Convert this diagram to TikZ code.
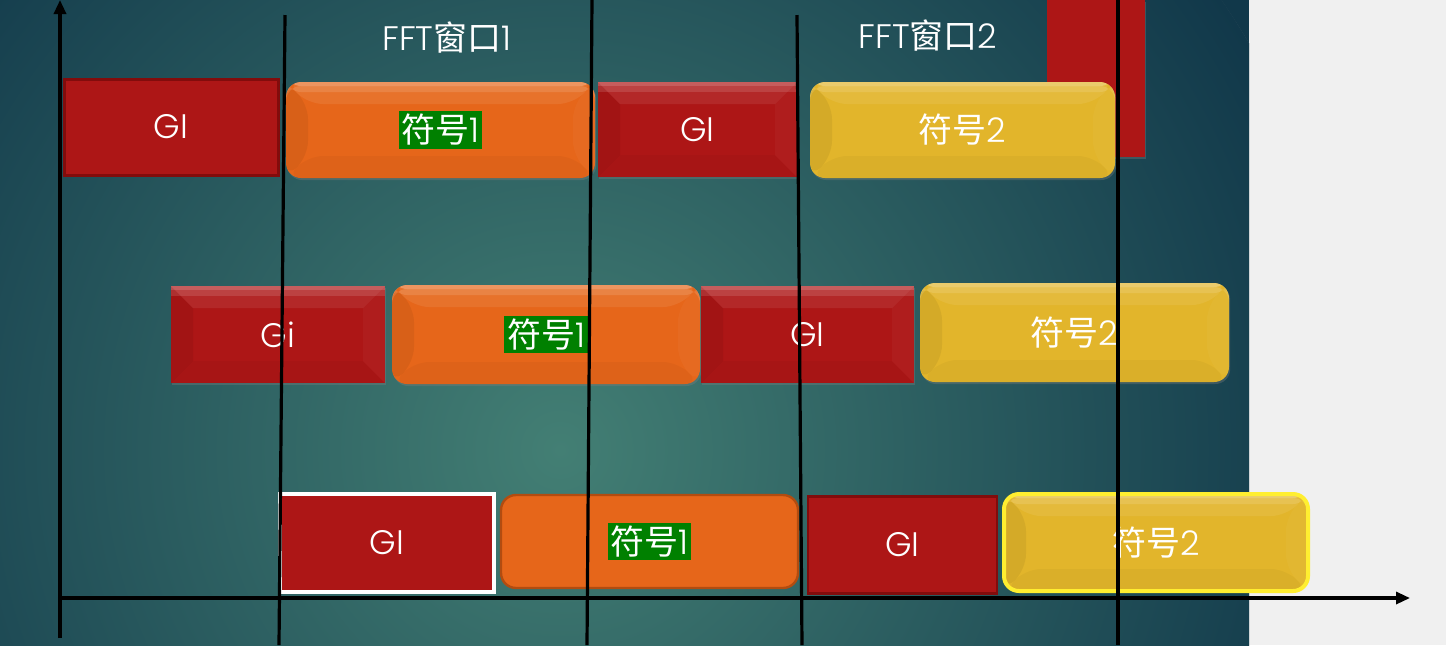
\documentclass[tikz,border=0pt]{standalone}
\usepackage{fontspec}
\setmainfont{Poppins}[UprightFont=* Light]
\newfontfamily\cjk{Noto Sans CJK SC}
\usetikzlibrary{arrows.meta, shadows}

\definecolor{bgIn}{HTML}{437F74}
\definecolor{bgOut}{HTML}{11384A}
\definecolor{bgGray}{HTML}{F0F0F0}
\definecolor{giRed}{HTML}{AD1616}
\definecolor{giEdge}{HTML}{820C0C}
\definecolor{symOrange}{HTML}{E6661A}
\definecolor{symEdge}{HTML}{B24C10}
\definecolor{symYellow}{HTML}{E2B52B}
\definecolor{glowYellow}{HTML}{FFEE30}
\definecolor{tagGreen}{HTML}{008000}

\begin{document}
\begin{tikzpicture}
    [x=0.5pt, y=-0.5pt,
    box/.style={rectangle, inner sep=0pt, minimum height=49pt, text=white,
        font=\fontsize{17}{20}\selectfont},
    shade/.style={drop shadow={shadow xshift=.6pt, shadow yshift=-1pt, opacity=.35}},
    bevel/.style={path picture={
        \coordinate (bnw) at (path picture bounding box.north west);
        \coordinate (bne) at (path picture bounding box.north east);
        \coordinate (bsw) at (path picture bounding box.south west);
        \coordinate (bse) at (path picture bounding box.south east);
        \fill[white, opacity=.08] (bnw) -- (bne) -- ([shift={(-11pt,-11pt)}]bne) -- ([shift={(11pt,-11pt)}]bnw) -- cycle;
        \fill[black, opacity=.06] (bnw) -- ([shift={(11pt,-11pt)}]bnw) -- ([shift={(11pt,11pt)}]bsw) -- (bsw) -- cycle;
        \fill[black, opacity=.03] (bsw) -- ([shift={(11pt,11pt)}]bsw) -- ([shift={(-11pt,11pt)}]bse) -- (bse) -- cycle;
        \fill[white, opacity=.03] (bne) -- (bse) -- ([shift={(-11pt,11pt)}]bse) -- ([shift={(-11pt,-11pt)}]bne) -- cycle;
        \fill[white, opacity=.25] (bnw) rectangle ([yshift=-2pt]bne);
        \fill[white, opacity=.12] ([yshift=-2pt]bnw) rectangle ([yshift=-5pt]bne);}},
    gibox/.style={box, fill=giRed},
    orgbox/.style={box, fill=symOrange, rounded corners=7.5pt},
    yelbox/.style={box, fill=symYellow, rounded corners=7.5pt},
    tag/.style={fill=tagGreen, text=white, inner sep=1.5pt, font=\fontsize{17}{20}\selectfont},
    title/.style={text=white, font=\fontsize{17}{20}\selectfont},
    vline/.style={black, line width=1.6pt},
    axis/.style={black, line width=1.6pt, -{Triangle[length=7pt, width=6pt]}},]

    \useasboundingbox (0,0) rectangle (1446,645);

    %Background
    \fill[bgGray] (1249,0) rectangle (1446,645);
    \begin{scope}
        \clip (0,0) rectangle (1249,645);
        \fill[bgOut] (0,0) rectangle (1249,645);
        \shade[inner color=bgIn, outer color=bgOut] (560,450) circle (800);
    \end{scope}

    %Titles
    \node[title] (w1) at (447,38) {FFT{\cjk 窗口}1};
    \node[title] (w2) at (928,36) {FFT{\cjk 窗口}2};

    %Row 1
    \node[gibox, shade, minimum width=49pt, minimum height=78.5pt] (bar) at (1096,78.5) {};
    \node[gibox, draw=giEdge, line width=1.5pt, minimum width=107pt, minimum height=48pt] (g1) at (171,127) {GI};
    \node[orgbox, bevel, shade, minimum width=154.5pt, minimum height=48pt] (s1) at (440.5,130) {};
    \node[tag] (t1) at (s1) {{\cjk 符号}1};
    \node[gibox, bevel, shade, minimum width=99.5pt, minimum height=47.5pt] (g2) at (697.5,129.5) {GI};
    \node[yelbox, bevel, shade, minimum width=152.5pt, minimum height=48pt] (s2) at (962.5,130) {{\cjk 符号}2};

    %Row 2
    \node[gibox, bevel, shade, minimum width=107pt, minimum height=48.5pt] (g3) at (278,334.5) {Gi};
    \node[orgbox, bevel, shade, minimum width=154pt, minimum height=49.5pt] (s3) at (546,334.5) {};
    \node[tag] (t3) at (s3) {{\cjk 符号}1};
    \node[gibox, bevel, shade, minimum width=106.5pt, minimum height=48.5pt] (g4) at (807.5,334.5) {GI};
    \node[yelbox, bevel, shade, minimum width=154.5pt, minimum height=49.5pt] (s4) at (1074.5,332.5) {{\cjk 符号}2};

    %Row 3
    \node[gibox, draw=white, line width=2pt, minimum width=107pt, minimum height=49pt] (g5) at (387,543) {GI};
    \node[orgbox, draw=symEdge, line width=1.2pt, minimum width=148.5pt, minimum height=46.5pt] (s5) at (649.5,541.5) {};
    \node[tag] (t5) at (s5) {{\cjk 符号}1};
    \node[gibox, draw=giEdge, line width=1.2pt, minimum width=94.5pt, minimum height=48.5pt] (g6) at (902.5,545) {GI};
    \node[yelbox, bevel, draw=glowYellow, line width=2pt, minimum width=152pt, minimum height=48.5pt] (s6) at (1156,542.5) {{\cjk 符号}2};

    %Lines
    \coordinate (v1t) at (285,15);   \coordinate (v1b) at (279,645);
    \coordinate (v2t) at (592,0);    \coordinate (v2b) at (587,645);
    \coordinate (v3t) at (797,15);   \coordinate (v3b) at (802,645);
    \coordinate (v4t) at (1118,0);   \coordinate (v4b) at (1118,645);
    \draw[vline] (v1t) -- (v1b);
    \draw[vline] (v2t) -- (v2b);
    \draw[vline] (v3t) -- (v3b);
    \draw[vline] (v4t) -- (v4b);

    %Axes
    \coordinate (ybot) at (60,638);
    \coordinate (ytop) at (60,0);
    \coordinate (xl) at (60,598);
    \coordinate (xr) at (1410,598);
    \draw[axis] (ybot) -- (ytop);
    \draw[axis] (xl) -- (xr);
\end{tikzpicture}
\end{document}
